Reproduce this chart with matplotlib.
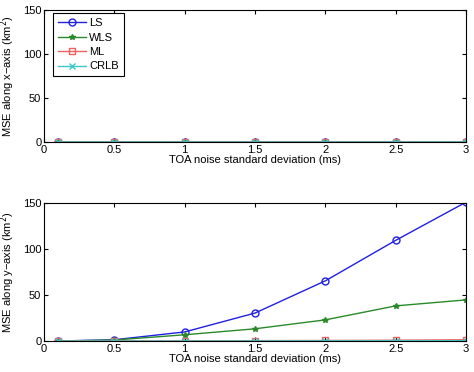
import numpy as np
import matplotlib.pyplot as plt

plt.rcParams['font.family'] = ['Liberation Sans', 'DejaVu Sans']

sigma = [0.1, 0.5, 1, 1.5, 2, 2.5, 3]
labels = ['LS', 'WLS', 'ML', 'CRLB']

# MSE along x-axis (km^2) - all very close to zero
mse_x = {
    'LS':   [0.05, 0.1, 0.15, 0.2, 0.25, 0.3, 0.35],
    'WLS':  [0.05, 0.1, 0.15, 0.2, 0.25, 0.3, 0.35],
    'ML':   [0.05, 0.1, 0.15, 0.2, 0.25, 0.3, 0.35],
    'CRLB': [0.01, 0.02, 0.04, 0.06, 0.08, 0.1, 0.12],
}
# MSE along y-axis (km^2)
mse_y = {
    'LS':   [0.1, 1.5, 10, 30.5, 65.5, 109.5, 151],
    'WLS':  [0.1, 1.2, 6.9, 13.4, 23.1, 38.3, 44.8],
    'ML':   [0.05, 0.2, 0.35, 0.5, 0.7, 1.0, 1.5],
    'CRLB': [0.01, 0.05, 0.1, 0.2, 0.3, 0.4, 0.5],
}

styles = {
    'LS':   dict(color='#2020e0', marker='o', mfc='none', ms=5),
    'WLS':  dict(color='#2a8a2a', marker='*', ms=4),
    'ML':   dict(color='#f06060', marker='s', mfc='none', ms=4),
    'CRLB': dict(color='#40c8c8', marker='x', ms=4),
}

fig = plt.figure(figsize=(4.74, 3.72), dpi=100)
ax1 = fig.add_axes([0.093, 0.618, 0.890, 0.355])
ax2 = fig.add_axes([0.093, 0.083, 0.890, 0.371])

for ax, data, ylab in [(ax1, mse_x, 'MSE along x\u2212axis (km$^2$)'),
                       (ax2, mse_y, 'MSE along y\u2212axis (km$^2$)')]:
    for name in labels:
        ax.plot(sigma, data[name], lw=1, label=name, **styles[name])
    ax.set_xlim(0, 3)
    ax.set_ylim(0, 150)
    ax.set_xticks([0, 0.5, 1, 1.5, 2, 2.5, 3])
    ax.set_xticklabels(['0', '0.5', '1', '1.5', '2', '2.5', '3'])
    ax.set_yticks([0, 50, 100, 150])
    ax.tick_params(direction='in', top=True, right=True, labelsize=8, length=3, pad=2)
    ax.set_xlabel('TOA noise standard deviation (ms)', fontsize=8, labelpad=0)
    ax.set_ylabel(ylab, fontsize=8, labelpad=4)

leg = ax1.legend(loc='upper left', bbox_to_anchor=(0.021, 0.977), borderaxespad=0,
                 numpoints=1, fontsize=8, fancybox=False,
                 framealpha=1, edgecolor='black', handlelength=2.5,
                 borderpad=0.45, labelspacing=0.4, handletextpad=0.3)
leg.get_frame().set_linewidth(0.8)

fig.savefig('out.png', dpi=100)
